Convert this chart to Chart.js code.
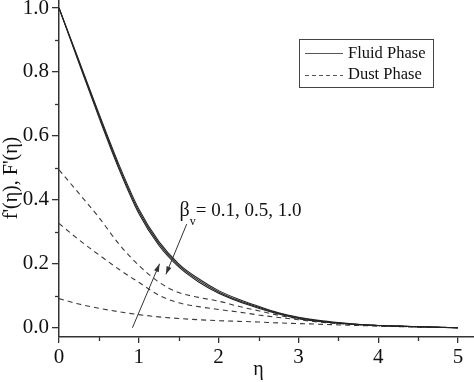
<!DOCTYPE html>
<html>
<head>
<meta charset="utf-8">
<script src="https://cdn.jsdelivr.net/npm/chart.js@4/dist/chart.umd.min.js"></script>
<style>
html,body{margin:0;padding:0;background:#fff;}
#wrap{width:474px;height:382px;position:relative;}
</style>
</head>
<body>
<div id="wrap"><canvas id="c" width="474" height="382"></canvas></div>
<script>
// ---- data ----
const eta = [0,0.25,0.5,0.75,1.0,1.25,1.5,1.75,2.0,2.25,2.5,2.75,3.0,3.25,3.5,3.75,4.0,4.25,4.5,4.75,5.0];
const fluidBeta01 = [1.0,0.836,0.670,0.511,0.371,0.270,0.200,0.153,0.116,0.089,0.067,0.047,0.033,0.023,0.016,0.011,0.007,0.005,0.003,0.0015,0.0];
const fluidBeta05 = [1.0,0.832,0.664,0.504,0.364,0.264,0.195,0.148,0.112,0.085,0.064,0.045,0.031,0.021,0.015,0.010,0.007,0.005,0.003,0.0015,0.0];
const fluidBeta10 = [1.0,0.828,0.658,0.497,0.357,0.258,0.190,0.143,0.108,0.082,0.061,0.043,0.029,0.020,0.014,0.010,0.007,0.005,0.003,0.0015,0.0];
const dustBeta10 = [0.494,0.420,0.345,0.262,0.195,0.143,0.110,0.095,0.083,0.067,0.053,0.039,0.028,0.020,0.014,0.010,0.007,0.005,0.003,0.0015,0.0];
const dustBeta05 = [0.326,0.275,0.228,0.183,0.142,0.102,0.078,0.066,0.057,0.049,0.040,0.032,0.025,0.018,0.013,0.009,0.006,0.004,0.0025,0.001,0.0];
const dustBeta01 = [0.091,0.074,0.061,0.050,0.041,0.034,0.029,0.025,0.022,0.020,0.018,0.015,0.013,0.011,0.009,0.007,0.005,0.0035,0.002,0.001,0.0];
const xTicks = [0,1,2,3,4,5];
const yTicks = [0.0,0.2,0.4,0.6,0.8,1.0];
const xMinorTicks = [0.5,1.5,2.5,3.5,4.5];
const yMinorTicks = [0.1,0.3,0.5,0.7,0.9];
const legendLabels = ["Fluid Phase","Dust Phase"];
const xTitle = "\u03b7";
const yTitle = "f'(\u03b7), F'(\u03b7)";
const annotationText = "= 0.1, 0.5, 1.0";
// annotation anchor points in data units
const annotText = {x:1.51, y:0.365};
const arrowUp = {from:{x:0.92,y:0.0}, to:{x:1.26,y:0.20}};
const arrowDown = {from:{x:1.60,y:0.324}, to:{x:1.34,y:0.167}};

const FONT = "'Liberation Serif', 'Times New Roman', serif";
const pts = arr => eta.map((e,i)=>({x:e,y:arr[i]}));

function solid(arr){return {data:pts(arr),borderColor:'#222',borderWidth:1.05,pointRadius:0,fill:false,cubicInterpolationMode:'monotone'};}
function dashed(arr){return {data:pts(arr),borderColor:'#3a3a3a',borderWidth:1.1,borderDash:[5,4],pointRadius:0,fill:false,cubicInterpolationMode:'monotone'};}

const extras = {
  id:'extras',
  afterDraw(chart){
    const ctx = chart.ctx, xs = chart.scales.x, ys = chart.scales.y;
    const ca = chart.chartArea;
    ctx.save();
    // minor ticks
    ctx.strokeStyle = '#333'; ctx.lineWidth = 1.3;
    yMinorTicks.forEach(v=>{const p=Math.round(ys.getPixelForValue(v))+0.5;ctx.beginPath();ctx.moveTo(ca.left-4,p);ctx.lineTo(ca.left,p);ctx.stroke();});
    xMinorTicks.forEach(v=>{const p=Math.round(xs.getPixelForValue(v))+0.5;ctx.beginPath();ctx.moveTo(p,ca.bottom);ctx.lineTo(p,ca.bottom+4);ctx.stroke();});
    // legend
    const lx=299.5, ly=39.5, lw=134, lh=48;
    ctx.strokeStyle='#444'; ctx.lineWidth=1;
    ctx.strokeRect(lx,ly,lw,lh);
    ctx.font = "16.5px "+FONT; ctx.fillStyle='#111'; ctx.textBaseline='middle'; ctx.textAlign='left';
    ctx.beginPath(); ctx.strokeStyle='#555'; ctx.lineWidth=1.2; ctx.setLineDash([]);
    ctx.moveTo(305,53.5); ctx.lineTo(343,53.5); ctx.stroke();
    ctx.beginPath(); ctx.setLineDash([4,3]); ctx.moveTo(305,75.5); ctx.lineTo(343,75.5); ctx.stroke();
    ctx.setLineDash([]);
    ctx.fillText(legendLabels[0],348,54);
    ctx.fillText(legendLabels[1],348,75);
    // annotation text
    const tx = xs.getPixelForValue(annotText.x), ty = ys.getPixelForValue(annotText.y);
    ctx.font = "20px "+FONT; ctx.textBaseline='middle';
    ctx.fillText("\u03b2", tx, ty);
    const bw = ctx.measureText("\u03b2").width;
    ctx.font = "12px "+FONT;
    ctx.fillText("v", tx+bw, ty+11);
    ctx.font = "19px "+FONT;
    ctx.fillText(annotationText, tx+bw+6, ty);
    // arrows
    function arrow(a){
      const x1=xs.getPixelForValue(a.from.x), y1=ys.getPixelForValue(a.from.y);
      const x2=xs.getPixelForValue(a.to.x), y2=ys.getPixelForValue(a.to.y);
      ctx.strokeStyle='#333'; ctx.fillStyle='#333'; ctx.lineWidth=1;
      ctx.beginPath(); ctx.moveTo(x1,y1); ctx.lineTo(x2,y2); ctx.stroke();
      const ang=Math.atan2(y2-y1,x2-x1), L=8, W=2.6;
      ctx.beginPath();
      ctx.moveTo(x2,y2);
      ctx.lineTo(x2-L*Math.cos(ang)+W*Math.sin(ang), y2-L*Math.sin(ang)-W*Math.cos(ang));
      ctx.lineTo(x2-L*Math.cos(ang)-W*Math.sin(ang), y2-L*Math.sin(ang)+W*Math.cos(ang));
      ctx.closePath(); ctx.fill();
    }
    arrow(arrowUp); arrow(arrowDown);
    // axis titles
    ctx.fillStyle='#111';
    ctx.font = "20px "+FONT; ctx.textAlign='center'; ctx.textBaseline='middle';
    ctx.fillText(xTitle, xs.getPixelForValue(2.5), 370);
    ctx.translate(12, 178); ctx.rotate(-Math.PI/2);
    ctx.fillText(yTitle, 0, 0);
    ctx.restore();
  }
};

new Chart(document.getElementById('c'), {
  type:'line',
  data:{datasets:[solid(fluidBeta01),solid(fluidBeta05),solid(fluidBeta10),dashed(dustBeta10),dashed(dustBeta05),dashed(dustBeta01)]},
  options:{
    responsive:false, animation:false, devicePixelRatio:1,
    layout:{padding:0},
    plugins:{legend:{display:false},tooltip:{enabled:false}},
    scales:{
      x:{type:'linear',min:0,max:5.2,
        afterBuildTicks:s=>{s.ticks=xTicks.map(v=>({value:v}));},
        afterFit:s=>{s.height=45;s.paddingLeft=0;s.paddingRight=0;},
        grid:{drawOnChartArea:false,drawTicks:true,tickLength:6,color:'#333',lineWidth:1.3},
        border:{display:true,color:'#333',width:1.5},
        ticks:{padding:2,color:'#111',font:{family:FONT,size:21},maxRotation:0,callback:v=>String(v)}
      },
      y:{type:'linear',min:-0.029,max:1.025,
        afterBuildTicks:s=>{s.ticks=yTicks.map(v=>({value:v}));},
        afterFit:s=>{s.width=59;s.paddingTop=0;s.paddingBottom=0;},
        grid:{drawOnChartArea:false,drawTicks:true,tickLength:7,color:'#333',lineWidth:1.3},
        border:{display:true,color:'#333',width:1.5},
        ticks:{padding:3,color:'#111',font:{family:FONT,size:21},callback:v=>v.toFixed(1)}
      }
    }
  },
  plugins:[extras]
});
</script>
</body>
</html>
